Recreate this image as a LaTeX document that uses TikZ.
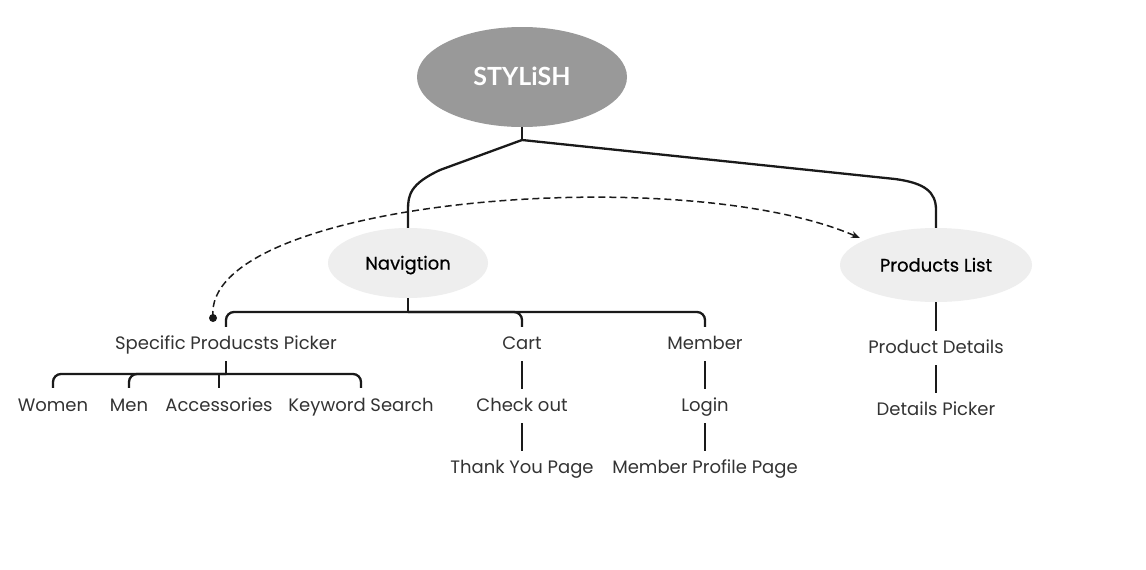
\documentclass[tikz,border=0pt]{standalone}
\usepackage{fontspec}
\setmainfont{Poppins}
\newfontfamily\latofont{Lato}
\newfontfamily\medfont[FakeBold=0.6]{Poppins}
\usetikzlibrary{arrows.meta,shapes.geometric}
\definecolor{txt}{HTML}{333333}
\definecolor{ln}{HTML}{1A1A1A}
\definecolor{rootfill}{HTML}{999999}
\definecolor{lightfill}{HTML}{EEEEEE}
\begin{document}
\begin{tikzpicture}[x=1pt,y=-1pt,
  lbl/.style={text=txt,font=\fontsize{18}{20}\selectfont,inner xsep=1pt,inner ysep=0pt,text height=13pt,text depth=4pt,anchor=base},
  tree/.style={draw=ln,line width=2.3pt,rounded corners=8pt},
  link/.style={draw=ln,line width=2.3pt},
  oval/.style={ellipse,fill=lightfill,minimum width=160pt,minimum height=70pt,text=black,inner sep=0pt,text height=13pt,text depth=0pt,font=\medfont\fontsize{18}{20}\selectfont}]
\useasboundingbox[fill=white] (0,0) rectangle (1146,570);
\node[ellipse,fill=rootfill,minimum width=210pt,minimum height=100pt,inner sep=0pt,text height=17pt,text depth=0pt,text=white,font=\latofont\bfseries\fontsize{25}{27}\selectfont] (root) at (522,77) {STYLiSH};
\node[oval] (nav) at (408,263) {Navigtion};
\node[oval,minimum width=192pt,minimum height=74pt] (pl) at (936,265) {Products List};
\node[lbl] (spp) at (226,349) {Specific Producsts Picker};
\node[lbl] (cart) at (522,349) {Cart};
\node[lbl] (mem) at (705,349) {Member};
\node[lbl] (women) at (53,411) {Women};
\node[lbl] (men) at (129,411) {Men};
\node[lbl] (acc) at (219,411) {Accessories};
\node[lbl] (kw) at (361,411) {Keyword Search};
\node[lbl] (co) at (522,411) {Check out};
\node[lbl] (login) at (705,411) {Login};
\node[lbl] (ty) at (522,473) {Thank You Page};
\node[lbl] (mpp) at (705,473) {Member Profile Page};
\node[lbl] (pd) at (936,353) {Product Details};
\node[lbl] (dp) at (936,415) {Details Picker};
\coordinate (rj) at (522,140);
\coordinate (nj) at (408,312);
\coordinate (sj) at (226,374);
% root branches
\draw[link] (root.south) -- (rj);
\draw[link] (rj) -- (440,170) .. controls (410,184) and (408,195) .. (408,210) -- (nav.north);
\draw[link] (rj) -- (895,179) .. controls (925,183) and (936,192) .. (936,210) -- (pl.north);
% navigation branches
\draw[link] (nav.south) -- (nj);
\draw[tree] (nj) -| ([yshift=9pt]spp.north);
\draw[tree] (nj) -| ([yshift=9pt]cart.north);
\draw[tree] (nj) -| ([yshift=9pt]mem.north);
% picker branches
\draw[link] ([yshift=-8pt]spp.south) -- (sj);
\draw[tree] (sj) -| ([yshift=10pt]women.north);
\draw[tree] (sj) -| ([yshift=10pt]men.north);
\draw[link] (219,374) -- ([yshift=10pt]acc.north);
\draw[tree] (sj) -| ([yshift=10pt]kw.north);
% chains
\draw[link] ([yshift=-8pt]cart.south) -- ([yshift=9pt]co.north);
\draw[link] ([yshift=-8pt]co.south) -- ([yshift=9pt]ty.north);
\draw[link] ([yshift=-8pt]mem.south) -- ([yshift=9pt]login.north);
\draw[link] ([yshift=-8pt]login.south) -- ([yshift=9pt]mpp.north);
\draw[link] (pl.south) -- ([yshift=9pt]pd.north);
\draw[link] ([yshift=-8pt]pd.south) -- ([yshift=9pt]dp.north);
% dashed link
\coordinate (ds) at (213,318);
\coordinate (de) at (860,238);
\fill[ln] (ds) circle (4pt);
\draw[ln,line width=1.5pt,dash pattern=on 7pt off 4pt,-{Stealth[length=9pt,width=7pt]}] (ds) .. controls (200,200) and (680,160) .. (de);
\end{tikzpicture}
\end{document}
